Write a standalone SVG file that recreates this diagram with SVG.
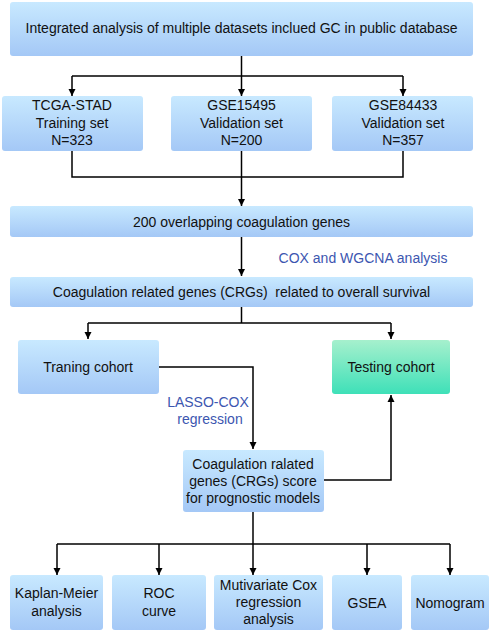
<svg xmlns="http://www.w3.org/2000/svg" width="491" height="632" viewBox="0 0 491 632">
<defs>
<linearGradient id="gb" x1="0" y1="0" x2="0" y2="1"><stop offset="0" stop-color="#c8e9ff"/><stop offset="1" stop-color="#a4c8f6"/></linearGradient>
<linearGradient id="gg" x1="0" y1="0" x2="0" y2="1"><stop offset="0" stop-color="#a6f0cd"/><stop offset="1" stop-color="#3ee0b8"/></linearGradient>
<marker id="ah" viewBox="0 0 10 10" refX="10" refY="5" markerWidth="7" markerHeight="8" markerUnits="userSpaceOnUse" orient="auto"><path d="M0,0 L10,5 L0,10 Z" fill="#000"/></marker>
<style>
.b{fill:url(#gb);}
.g{fill:url(#gg);}
text{font-family:"Liberation Sans",Arial,sans-serif;font-size:14px;fill:#111;text-anchor:middle;}
.lab{fill:#3c56b0;}
.c{fill:none;stroke:#000;stroke-width:1.5;}
</style>
</defs>
<rect width="491" height="632" fill="#fff"/>
<g id="connectors">
<path class="c" d="M241.5,56 V76"/>
<path class="c" d="M72,76 H403"/>
<path class="c" d="M72,76 V96" marker-end="url(#ah)"/>
<path class="c" d="M241.5,76 V96" marker-end="url(#ah)"/>
<path class="c" d="M403,76 V96" marker-end="url(#ah)"/>
<path class="c" d="M72,151 V177 H403 V151"/>
<path class="c" d="M241.5,151 V206" marker-end="url(#ah)"/>
<path class="c" d="M241.5,237 V276" marker-end="url(#ah)"/>
<path class="c" d="M241.5,307 V323"/>
<path class="c" d="M88,323 H391"/>
<path class="c" d="M88,323 V339" marker-end="url(#ah)"/>
<path class="c" d="M391,323 V339" marker-end="url(#ah)"/>
<path class="c" d="M159,367 H253 V449" marker-end="url(#ah)"/>
<path class="c" d="M324,480 H391 V395" marker-end="url(#ah)"/>
<path class="c" d="M253,512 V544"/>
<path class="c" d="M57,544 H450"/>
<path class="c" d="M57,544 V575" marker-end="url(#ah)"/>
<path class="c" d="M159,544 V575" marker-end="url(#ah)"/>
<path class="c" d="M253,544 V575" marker-end="url(#ah)"/>
<path class="c" d="M367,544 V575" marker-end="url(#ah)"/>
<path class="c" d="M450,544 V575" marker-end="url(#ah)"/>
<text class="lab" x="363" y="263">COX and WGCNA analysis</text>
<text class="lab" x="208" y="407">LASSO-COX</text>
<text class="lab" x="210" y="424">regression</text>
</g>
<g id="n-top"><rect class="b" x="10" y="2" width="463" height="54" rx="3"/><text x="241.5" y="33">Integrated analysis of multiple datasets inclued GC in public database</text></g>
<g id="n-tcga"><rect class="b" x="2" y="96" width="141" height="55" rx="3"/><text x="72" y="110">TCGA-STAD</text><text x="72" y="128">Training set</text><text x="72" y="145">N=323</text></g>
<g id="n-gse15495"><rect class="b" x="171" y="96" width="141" height="55" rx="3"/><text x="241.5" y="110">GSE15495</text><text x="241.5" y="128">Validation set</text><text x="241.5" y="145">N=200</text></g>
<g id="n-gse84433"><rect class="b" x="332" y="96" width="141" height="55" rx="3"/><text x="403" y="110">GSE84433</text><text x="403" y="128">Validation set</text><text x="403" y="145">N=357</text></g>
<g id="n-overlap"><rect class="b" x="10" y="206" width="463" height="31" rx="3"/><text x="241.5" y="227">200 overlapping coagulation genes</text></g>
<g id="n-crgs"><rect class="b" x="10" y="277" width="463" height="30" rx="3"/><text x="241.5" y="297">Coagulation related genes (CRGs)&#160; related to overall survival</text></g>
<g id="n-train"><rect class="b" x="18" y="340" width="141" height="54" rx="3"/><text x="88" y="372">Traning cohort</text></g>
<g id="n-test"><rect class="g" x="332" y="340" width="118" height="54" rx="3"/><text x="391" y="372">Testing cohort</text></g>
<g id="n-score"><rect class="b" x="183" y="450" width="141" height="62" rx="3"/><text x="253" y="469">Coagulation ralated</text><text x="253" y="486">genes (CRGs) score</text><text x="253" y="503">for prognostic models</text></g>
<g id="n-km"><rect class="b" x="10" y="575" width="93" height="55" rx="3"/><text x="56.5" y="598">Kaplan-Meier</text><text x="56.5" y="616">analysis</text></g>
<g id="n-roc"><rect class="b" x="112" y="575" width="94" height="55" rx="3"/><text x="159" y="598">ROC</text><text x="159" y="616">curve</text></g>
<g id="n-cox"><rect class="b" x="214" y="575" width="109" height="55" rx="3"/><text x="268.5" y="590">Mutivariate Cox</text><text x="268.5" y="607">regression</text><text x="268.5" y="624">analysis</text></g>
<g id="n-gsea"><rect class="b" x="332" y="575" width="70" height="55" rx="3"/><text x="367" y="608">GSEA</text></g>
<g id="n-nomo"><rect class="b" x="411" y="575" width="78" height="55" rx="3"/><text x="450" y="608">Nomogram</text></g>
</svg>
